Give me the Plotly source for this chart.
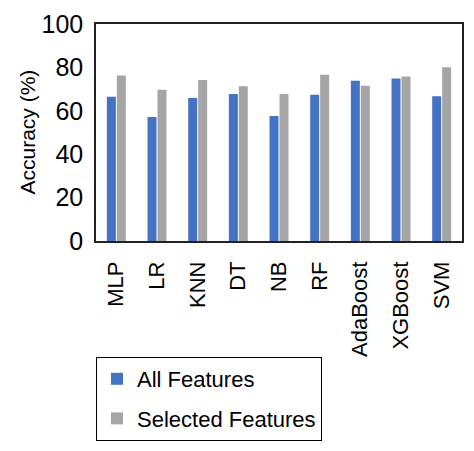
import plotly.graph_objects as go

categories = ["MLP", "LR", "KNN", "DT", "NB", "RF", "AdaBoost", "XGBoost", "SVM"]
all_features = [66.5, 57.2, 65.9, 67.7, 57.6, 67.4, 73.9, 74.9, 66.7]
selected_features = [76.3, 69.7, 74.2, 71.3, 67.7, 76.6, 71.6, 75.8, 80.1]
y_ticks = [0, 20, 40, 60, 80, 100]

FONT = "Liberation Sans, Arial, sans-serif"
FS = 22
W, H = 466, 443  # page body adds an 8px offset

fig = go.Figure()
fig.add_trace(go.Bar(x=categories, y=all_features, name="All Features",
                     legendgroup="a",
                     marker=dict(color="#4472C4", line=dict(width=0))))
fig.add_trace(go.Bar(x=categories, y=selected_features, name="Selected Features",
                     legendgroup="b",
                     marker=dict(color="#A5A5A5", line=dict(width=0))))

fig.add_annotation(text="Accuracy (%)", xref="paper", yref="paper",
                   x=-0.1885, y=0.5, xanchor="center", yanchor="middle",
                   textangle=-90, showarrow=False,
                   font=dict(family=FONT, size=21, color="black"))

fig.update_layout(
    width=W, height=H,
    margin=dict(l=88, r=12, t=16, b=210, autoexpand=False),
    paper_bgcolor="white", plot_bgcolor="white",
    font=dict(family=FONT, size=FS, color="black"),
    barmode="group", bargap=0.51, bargroupgap=0.1,
    showlegend=True,
    legend=dict(x=88 / W, y=1 - 349 / H, xref="container", yref="container",
                xanchor="left", yanchor="top",
                bordercolor="black", borderwidth=1,
                font=dict(family=FONT, size=FS, color="black"),
                tracegroupgap=8, itemwidth=30),
    xaxis=dict(showline=True, linecolor="#222222", linewidth=1.5, mirror=True,
               tickangle=-90, ticks="", showgrid=False, automargin=False,
               ticklabelstandoff=10,
               tickfont=dict(family=FONT, size=FS, color="black")),
    yaxis=dict(range=[0, 100], tickvals=y_ticks, showline=True, linecolor="#222222",
               linewidth=1.5, mirror=True, showgrid=False,
               ticks="outside", ticklen=6, tickcolor="rgba(0,0,0,0)",
               automargin=False,
               tickfont=dict(family=FONT, size=25, color="black")),
)

fig.write_html("out.html")
